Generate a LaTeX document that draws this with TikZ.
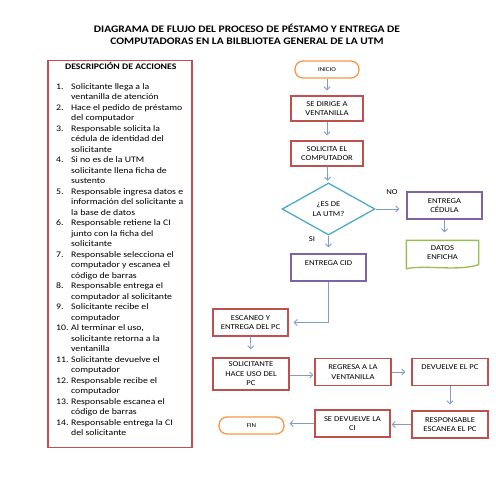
\documentclass[tikz,border=0pt]{standalone}
\usepackage{fontspec}
\setmainfont{Carlito}[FakeStretch=1.15]
\usetikzlibrary{shapes.geometric, arrows.meta}

\definecolor{rojo}{HTML}{C0504D}
\definecolor{morado}{HTML}{8064A2}
\definecolor{turquesa}{HTML}{4BACC6}
\definecolor{verde}{HTML}{9BBB59}
\definecolor{naranja}{HTML}{F79646}
\definecolor{flechaazul}{HTML}{7F9CCB}

\begin{document}
\begin{tikzpicture}[x=1pt, y=-1pt, line width=1.3pt,
        caja/.style={draw=rojo, minimum width=75pt, minimum height=27pt, align=center, inner sep=1pt, font=\fontsize{7.5}{9.5}\selectfont},
        cajamor/.style={caja, draw=morado},
        terminal/.style={draw=naranja, rounded corners=8pt, minimum width=64pt, minimum height=17pt, inner sep=1pt, font=\fontsize{6}{7}\selectfont},
        decision/.style={diamond, draw=turquesa, aspect=1.8, minimum width=93pt, minimum height=52pt, inner sep=0pt, align=center, font=\fontsize{7.5}{9.5}\selectfont},
        rotulo/.style={inner sep=0pt, font=\fontsize{7.5}{8}\selectfont},
        flecha/.style={-{Straight Barb[length=3pt, width=6pt]}, draw=flechaazul, line width=0.9pt, shorten >=5pt}]
    \useasboundingbox (0,0) rectangle (495,495);

    % titulo
    \node(titulo) at (247,34) [align=center, font=\fontsize{10}{12}\selectfont\bfseries]
        {DIAGRAMA DE FLUJO DEL PROCESO DE PÉSTAMO Y ENTREGA DE\\COMPUTADORAS EN LA BILBLIOTEA GENERAL DE LA UTM};

    % descripcion de acciones
    \node(desc) at (120,60) [anchor=north, draw=rojo, minimum width=144pt, minimum height=387pt, inner sep=0pt] {};
    \node(lista) at (55.5,62) [anchor=north west, inner sep=0pt, align=left, font=\fontsize{8.5}{10.5}\selectfont]
    {\hspace*{9pt}{\fontsize{8.5}{10.5}\selectfont\textbf{DESCRIPCIÓN DE ACCIONES}}\\[11pt]
     \begin{tabular}{@{}p{15pt}@{}l@{}}
     1. & Solicitante llega a la\\
        & ventanilla de atención\\
     2. & Hace el pedido de préstamo\\
        & del computador\\
     3. & Responsable solicita la\\
        & cédula de identidad del\\
        & solicitante\\
     4. & Si no es de la UTM\\
        & solicitante llena ficha de\\
        & sustento\\
     5. & Responsable ingresa datos e\\
        & información del solicitante a\\
        & la base de datos\\
     6. & Responsable retiene la CI\\
        & junto con la ficha del\\
        & solicitante\\
     7. & Responsable selecciona el\\
        & computador  y escanea el\\
        & código de barras\\
     8. & Responsable entrega el\\
        & computador  al solicitante\\
     9. & Solicitante recibe el\\
        & computador\\
     10. & Al terminar el uso,\\
        & solicitante retorna  a la\\
        & ventanilla\\
     11. & Solicitante devuelve el\\
        & computador\\
     12. & Responsable recibe el\\
        & computador\\
     13. & Responsable escanea el\\
        & código de barras\\
     14. & Responsable entrega la CI\\
        & del solicitante
     \end{tabular}};

    % diagrama
    \node[terminal](inicio) at (327,69.5) {INICIO};
    \node[caja, minimum width=72pt, minimum height=25pt](dirige) at (327,108.5) {SE DIRIGE A\\VENTANILLA};
    \node[caja, minimum width=72pt, minimum height=25pt](solicita) at (327,153.5) {SOLICITA EL\\COMPUTADOR};
    \node[decision](utm) at (328.5,209) {¿ES DE\\LA UTM?};
    \node[cajamor](cedula) at (444.5,205.5) {ENTREGA\\CÉDULA};
    \node[minimum width=71pt, minimum height=23pt, inner sep=1pt, align=center, font=\fontsize{7.5}{9.5}\selectfont](datos) at (442.5,252.5) {DATOS\\ENFICHA};
    \draw[verde] (datos.north west) -- (datos.north east) -- (datos.south east)
        .. controls +(-22pt,-7pt) and +(22pt,4pt) .. ([yshift=-4pt]datos.south west) -- cycle;
    \node[cajamor](cid) at (328.5,267.5) {ENTREGA CID\\\mbox{}};
    \node[caja](escaneo) at (250.5,322.5) {ESCANEO Y\\ENTREGA DEL PC};
    \node[caja, minimum width=76pt, minimum height=32pt](uso) at (251,374) {SOLICITANTE\\HACE USO DEL\\PC};
    \node[caja, minimum width=76pt](regresa) at (353,372) {REGRESA A LA\\VENTANILLA};
    \node[caja, minimum width=76pt](devuelve) at (450,372) {DEVUELVE EL PC\\\mbox{}};
    \node[caja, minimum width=76pt](responsable) at (450,424.5) {RESPONSABLE\\ESCANEA EL PC};
    \node[caja](devci) at (352.5,423.5) {SE DEVUELVE LA\\CI};
    \node[terminal, minimum width=65pt](fin) at (251.5,425.5) {FIN};

    \node[rotulo](no) at (392,192) {NO};
    \node[rotulo](si) at (312,239) {SI};

    % flechas
    \draw[flecha] (inicio) -- (dirige);
    \draw[flecha] (dirige) -- (solicita);
    \draw[flecha, shorten >=2pt] (solicita) -- (utm);
    \draw[flecha, shorten >=7pt] (utm.east) -- (utm.east -| cedula.west);
    \draw[flecha, shorten >=8pt] (cedula.south) -- (cedula.south |- datos.north);
    \draw[flecha, shorten >=6pt] (utm.south) -- (utm.south |- cid.north);
    \draw[flecha] (cid.south) |- (escaneo.east);
    \draw[flecha, shorten >=8pt] (escaneo) -- (uso);
    \draw[flecha, shorten >=1pt] ([yshift=-1pt]uso.east) -- ([yshift=-1pt]uso.east -| regresa.west);
    \draw[flecha, shorten >=6pt] (regresa) -- (devuelve);
    \draw[flecha, shorten >=6pt] (devuelve) -- (responsable);
    \draw[flecha, shorten >=1pt] (responsable.west) -- (responsable.west -| devci.east);
    \draw[flecha] (devci.west) -- (devci.west -| fin.east);
\end{tikzpicture}
\end{document}
